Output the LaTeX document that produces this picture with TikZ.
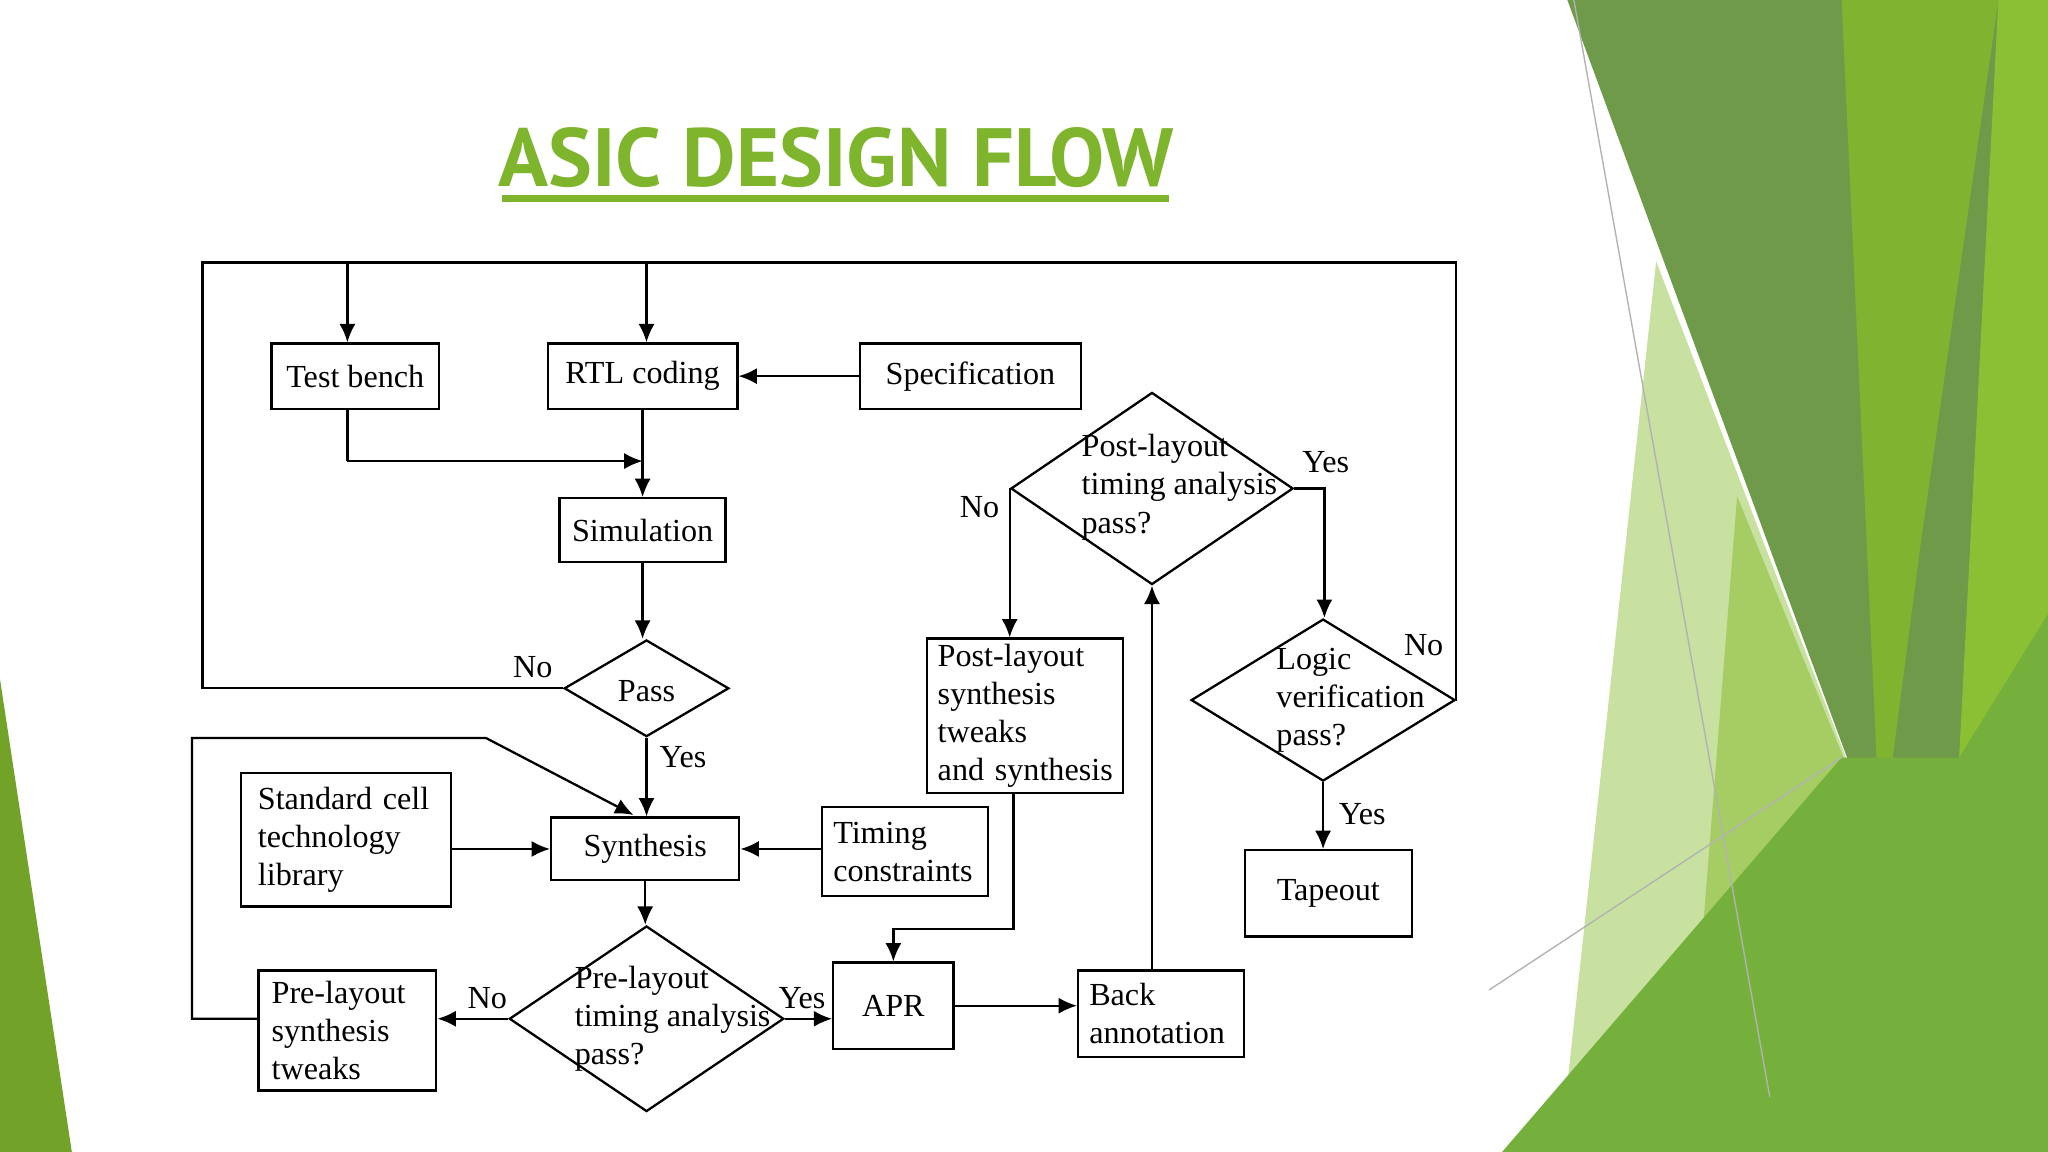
\documentclass[tikz,border=0pt]{standalone}
\usepackage{fontspec}
\setmainfont{Liberation Serif}
\newfontfamily\titlefont{PT Sans}
\usetikzlibrary{shapes.geometric,arrows.meta}
\definecolor{tgreen}{HTML}{7FB52C}
\begin{document}
\begin{tikzpicture}[x=0.01cm,y=-0.01cm,
  box/.style={draw,line width=0.5pt,inner sep=0pt,font=\fontsize{7}{8.3}\selectfont,align=left},
  dia/.style={draw,diamond,line width=0.5pt,inner sep=0pt},
  lab/.style={font=\fontsize{7}{8.3}\selectfont,align=left,inner sep=0pt},
  arr/.style={-{Latex[length=4pt,width=3.5pt]},line width=0.5pt},
  ln/.style={line width=0.5pt}]
\useasboundingbox (0,0) rectangle (1568,882);
% background
\fill[tgreen!90!black] (0,520) -- (55,882) -- (0,882) -- cycle;
\fill[color={rgb,255:red,111;green,154;blue,74}] (1200,0) -- (1568,0) -- (1568,882) -- (1440,650) -- cycle;
\fill[color={rgb,255:red,200;green,224;blue,160}] (1268,200) -- (1440,650) -- (1200,830) -- cycle;
\fill[color={rgb,255:red,165;green,205;blue,100}] (1330,380) -- (1440,650) -- (1300,760) -- cycle;
\fill[color={rgb,255:red,128;green,180;blue,48}] (1410,0) -- (1530,0) -- (1470,420) -- (1440,650) -- cycle;
\fill[color={rgb,255:red,140;green,192;blue,52}] (1530,0) -- (1568,0) -- (1568,882) -- (1500,580) -- cycle;
\fill[color={rgb,255:red,118;green,176;blue,60}] (1150,882) -- (1410,580) -- (1500,580) -- (1568,470) -- (1568,882) -- cycle;
\draw[gray!60,line width=0.3pt] (1205,0) -- (1355,840);
\draw[gray!60,line width=0.3pt] (1140,758) -- (1410,580);
% title
\node[text=tgreen,font=\titlefont\bfseries\fontsize{18}{20}\selectfont,inner sep=0pt] (title) at (640,121) {ASIC DESIGN FLOW};
\draw[tgreen,line width=1.6pt] (384,152) -- (895,152);
% nodes
\node[box,minimum width=1.28cm,minimum height=0.5cm] (tb) at (272,288) {Test bench};
\node[box,minimum width=1.45cm,minimum height=0.5cm] (rtl) at (492,288) {RTL coding};
\node[box,minimum width=1.69cm,minimum height=0.5cm] (spec) at (743,288) {Specification};
\node[box,minimum width=1.27cm,minimum height=0.49cm] (sim) at (492,406) {Simulation};
\node[dia,minimum width=1.26cm,minimum height=0.74cm] (pass) at (495,527) {};
\node[lab] (passt) at (495,529) {Pass};
\node[box,minimum width=1.44cm,minimum height=0.48cm] (syn) at (494,650) {Synthesis};
\node[box,minimum width=1.61cm,minimum height=1.02cm,text width=1.35cm] (std) at (265,643) {Standard cell\\technology\\library};
\node[box,minimum width=1.27cm,minimum height=0.68cm,text width=1.1cm] (tc) at (693,652) {Timing\\constraints};
\node[dia,minimum width=2.10cm,minimum height=1.42cm] (pre) at (495,780) {};
\node[lab] (pret) at (515,780) {Pre-layout\\timing analysis\\pass?};
\node[box,minimum width=1.36cm,minimum height=0.92cm,text width=1.16cm] (tw) at (266,789) {Pre-layout\\synthesis\\tweaks};
\node[box,minimum width=0.92cm,minimum height=0.66cm] (apr) at (684,770) {APR};
\node[box,minimum width=1.27cm,minimum height=0.66cm,text width=1.1cm] (ba) at (889,776) {Back\\annotation};
\node[dia,minimum width=2.16cm,minimum height=1.47cm] (post) at (882,374) {};
\node[lab] (postt) at (903,373) {Post-layout\\timing analysis\\pass?};
\node[box,minimum width=1.50cm,minimum height=1.18cm,text width=1.34cm] (pst) at (785,548) {Post-layout\\synthesis\\tweaks\\and synthesis};
\node[dia,minimum width=2.02cm,minimum height=1.24cm] (lv) at (1013,536) {};
\node[lab] (lvt) at (1034,536) {Logic\\verification\\pass?};
\node[box,minimum width=1.28cm,minimum height=0.66cm] (tape) at (1017,684) {Tapeout};
% coordinates
\coordinate (c1) at (155,527); \coordinate (c2) at (155,201);
\coordinate (c3) at (1115,201); \coordinate (c4) at (1115,536);
\coordinate (j1) at (266,201); \coordinate (j2) at (495,201);
\coordinate (k1) at (266,353); \coordinate (k2) at (492,353);
\coordinate (t1) at (147,780); \coordinate (t2) at (147,565); \coordinate (t3) at (372,565);
\coordinate (p1) at (776,711); \coordinate (p2) at (684,711);
\coordinate (q1) at (1014,374);
% edges
\draw[ln] (pass.west) -- (c1) -- (c2) -- (c3) -- (c4) -- (lv.east);
\draw[arr] (j1) -- (tb.north -| j1);
\draw[arr] (j2) -- (rtl.north -| j2);
\draw[arr] (spec) -- (rtl);
\draw[ln] (tb.south -| k1) -- (k1);
\draw[arr] (k1) -- (k2);
\draw[arr] (rtl) -- (sim);
\draw[arr] (sim.south) -- (sim.south |- pass.north);
\draw[arr] (pass.south) -- (pass.south |- syn.north);
\draw[arr] (tw.west |- t1) -- (t1) -- (t2) -- (t3) -- (485,624);
\draw[arr] (std.east |- syn) -- (syn.west);
\draw[arr] (tc.west |- syn) -- (syn.east);
\draw[arr] (syn.south) -- (syn.south |- pre.north);
\draw[arr] (pre.west) -- (tw.east |- pre.west);
\draw[arr] (pre.east) -- (apr.west |- pre.east);
\draw[arr] (apr) -- (ba.west |- apr);
\draw[arr] (ba.north -| post.south) -- (post.south);
\draw[arr] (post.west) -- (pst.north -| post.west);
\draw[arr] (post.east) -- (q1) -- (lv.north -| q1);
\draw[arr] (lv.south) -- (lv.south |- tape.north);
\draw[arr] (pst.south -| p1) -- (p1) -- (p2) -- (apr.north);
% labels
\node[lab] (l1) at (408,511) {No};
\node[lab] (l2) at (523,580) {Yes};
\node[lab] (l3) at (373,764) {No};
\node[lab] (l4) at (614,764) {Yes};
\node[lab] (l5) at (750,388) {No};
\node[lab] (l6) at (1015,354) {Yes};
\node[lab] (l7) at (1090,494) {No};
\node[lab] (l8) at (1043,623) {Yes};
\end{tikzpicture}
\end{document}
